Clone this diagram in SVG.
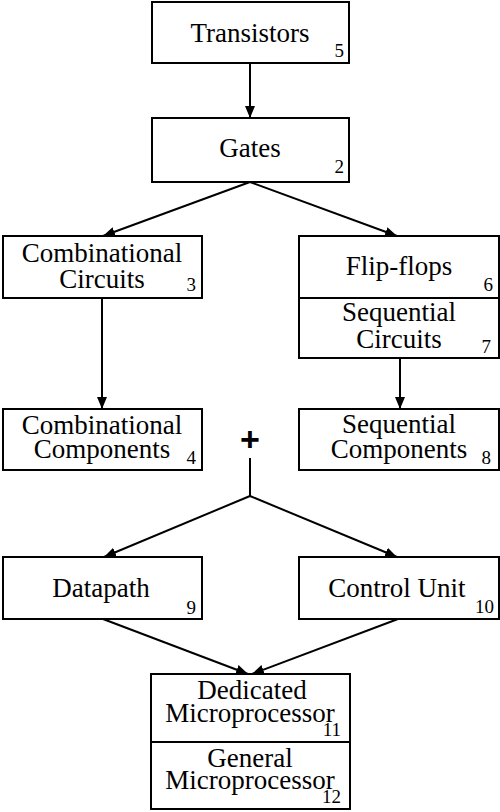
<svg xmlns="http://www.w3.org/2000/svg" width="500" height="812" viewBox="0 0 500 812">
<style>
.box{fill:#fff;stroke:#000;stroke-width:2}
.lbl{font-family:"Liberation Serif","Times New Roman",serif;font-size:27px;text-anchor:middle;fill:#000}
.num{font-family:"Liberation Serif","Times New Roman",serif;font-size:19px;text-anchor:end;fill:#000}
.con{stroke:#000;stroke-width:2;fill:none}
</style>
<defs>
<marker id="ah" viewBox="0 0 12 10" refX="12" refY="5" markerWidth="12" markerHeight="10" markerUnits="userSpaceOnUse" orient="auto">
<path d="M0,0 L12,5 L0,10 Z" fill="#000"/>
</marker>
</defs>
<rect width="500" height="812" fill="#fff"/>
<g id="connectors">
<line class="con" x1="250" y1="63" x2="250" y2="118" marker-end="url(#ah)"/>
<line class="con" x1="250" y1="182" x2="103" y2="236" marker-end="url(#ah)"/>
<line class="con" x1="250" y1="182" x2="397" y2="236" marker-end="url(#ah)"/>
<line class="con" x1="102" y1="298" x2="102" y2="409" marker-end="url(#ah)"/>
<line class="con" x1="400" y1="358" x2="400" y2="409" marker-end="url(#ah)"/>
<line class="con" x1="250" y1="458" x2="250" y2="496"/>
<line class="con" x1="250" y1="496" x2="104" y2="557" marker-end="url(#ah)"/>
<line class="con" x1="250" y1="496" x2="397" y2="557" marker-end="url(#ah)"/>
<line class="con" x1="103" y1="619" x2="248" y2="674" marker-end="url(#ah)"/>
<line class="con" x1="398" y1="619" x2="252" y2="674" marker-end="url(#ah)"/>
</g>
<g id="plus">
<text x="250" y="451" font-family="Liberation Sans, Arial, sans-serif" font-size="34" font-weight="bold" text-anchor="middle">+</text>
</g>
<g id="transistors">
<rect class="box" x="152" y="2" width="197" height="61"/>
<text class="lbl" x="250" y="42">Transistors</text>
<text class="num" x="344" y="57">5</text>
</g>
<g id="gates">
<rect class="box" x="152" y="118" width="197" height="64"/>
<text class="lbl" x="250" y="157">Gates</text>
<text class="num" x="344" y="173">2</text>
</g>
<g id="comb-circuits">
<rect class="box" x="3" y="236" width="199" height="62"/>
<text class="lbl" x="102" y="262">Combinational</text>
<text class="lbl" x="102" y="288">Circuits</text>
<text class="num" x="196" y="291">3</text>
</g>
<g id="flip-flops">
<rect class="box" x="299" y="236" width="200" height="62"/>
<text class="lbl" x="399" y="275">Flip-flops</text>
<text class="num" x="493" y="291">6</text>
</g>
<g id="seq-circuits">
<rect class="box" x="299" y="298" width="200" height="60"/>
<text class="lbl" x="399" y="321">Sequential</text>
<text class="lbl" x="399" y="348">Circuits</text>
<text class="num" x="491" y="353">7</text>
</g>
<g id="comb-components">
<rect class="box" x="3" y="409" width="199" height="61"/>
<text class="lbl" x="102" y="434">Combinational</text>
<text class="lbl" x="102" y="458">Components</text>
<text class="num" x="196" y="464">4</text>
</g>
<g id="seq-components">
<rect class="box" x="299" y="409" width="200" height="61"/>
<text class="lbl" x="399" y="433">Sequential</text>
<text class="lbl" x="399" y="458">Components</text>
<text class="num" x="491" y="464">8</text>
</g>
<g id="datapath">
<rect class="box" x="3" y="557" width="199" height="62"/>
<text class="lbl" x="101" y="597">Datapath</text>
<text class="num" x="196" y="614">9</text>
</g>
<g id="control-unit">
<rect class="box" x="299" y="557" width="200" height="62"/>
<text class="lbl" x="397" y="597">Control Unit</text>
<text class="num" x="494" y="613">10</text>
</g>
<g id="dedicated">
<rect class="box" x="151" y="674" width="199" height="68"/>
<text class="lbl" x="252" y="699">Dedicated</text>
<text class="lbl" x="250" y="722">Microprocessor</text>
<text class="num" x="341" y="736">11</text>
</g>
<g id="general">
<rect class="box" x="151" y="742" width="199" height="67"/>
<text class="lbl" x="250" y="767">General</text>
<text class="lbl" x="250" y="789">Microprocessor</text>
<text class="num" x="341" y="803">12</text>
</g>
</svg>
